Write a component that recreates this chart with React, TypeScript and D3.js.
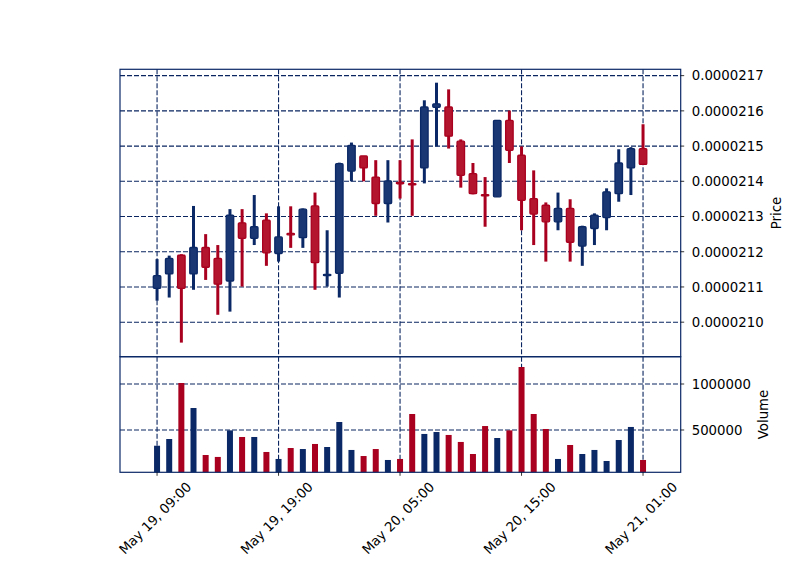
import React from 'react';
import * as d3 from 'd3';

// prices in units of 1e-7
const opens = [210.96, 211.37, 211.9, 211.37, 212.12, 211.81, 211.17, 212.82, 212.38, 212.9, 211.95, 212.52, 212.4, 213.3, 211.32, 211.39, 214.29, 214.72, 214.12, 213.37, 213.97, 213.93, 214.38, 216.1, 216.11, 215.14, 214.22, 213.62, 213.56, 215.73, 214.74, 213.51, 213.32, 212.85, 213.23, 212.16, 212.66, 212.97, 213.65, 214.38, 214.93];
const highs = [211.79, 211.89, 211.93, 213.3, 212.5, 212.19, 213.21, 213.21, 213.61, 213.09, 213.29, 213.29, 213.23, 213.68, 212.61, 214.53, 215.1, 214.72, 214.6, 214.6, 214.6, 215.19, 216.3, 216.8, 216.61, 215.19, 214.52, 214.12, 215.73, 216.01, 214.99, 214.31, 213.4, 213.68, 213.49, 212.74, 213.09, 213.8, 214.91, 214.97, 215.62];
const lows = [210.61, 210.7, 209.42, 210.92, 211.2, 210.21, 210.3, 211.01, 212.19, 211.6, 211.72, 212.11, 212.11, 210.92, 211.01, 210.7, 214.0, 214.0, 213.02, 212.83, 213.51, 213.02, 213.94, 214.99, 214.93, 213.82, 213.63, 212.71, 213.56, 214.52, 212.61, 212.19, 211.72, 212.61, 211.72, 211.6, 212.19, 212.61, 213.42, 213.61, 214.48];
const closes = [211.32, 211.81, 210.96, 212.12, 211.56, 211.08, 213.04, 212.38, 212.71, 211.97, 212.42, 212.48, 213.21, 211.69, 211.36, 214.5, 215.02, 214.38, 213.37, 214.01, 213.93, 213.9, 216.11, 216.2, 215.28, 214.17, 213.65, 213.59, 215.73, 214.88, 213.46, 213.07, 212.85, 213.23, 212.27, 212.71, 213.04, 213.7, 214.52, 214.93, 214.48];
const volumes = [329000, 402000, 1011000, 739000, 228000, 207000, 496000, 424000, 424000, 261000, 185000, 304000, 293000, 348000, 315000, 587000, 283000, 217000, 293000, 174000, 185000, 674000, 457000, 478000, 446000, 370000, 239000, 543000, 413000, 496000, 1185000, 674000, 511000, 185000, 337000, 239000, 283000, 163000, 391000, 533000, 174000];
const upUp = [true, true, false, true, false, false, true, false, true, false, true, false, true, false, true, true, true, false, false, true, false, false, true, true, false, false, false, false, true, false, false, false, false, true, false, true, true, true, true, true, false];

const tickIdx = [0, 10, 20, 30, 40];
const tickLabels = ['May 19, 09:00', 'May 19, 19:00', 'May 20, 05:00', 'May 20, 15:00', 'May 21, 01:00'];
const priceTicks = [210, 211, 212, 213, 214, 215, 216, 217];
const volTicks = [500000, 1000000];

const W = 800;
const H = 575;
const left = 120;
const right = 680.7;
const top = 69.3;
const mid = 356.7;
const bottom = 472.3;

const NAVY = '#0b2866';
const UP_EDGE = '#0b2866';
const UP_FILL = '#1a3773';
const DN_EDGE = '#a8001e';
const DN_FILL = '#b3152f';
const GRID = '#0a2560';
const FONT = 'DejaVu Sans, sans-serif';

export default function App() {
  const x = d3.scaleLinear().domain([-3.05, 43.1]).range([left, right]);
  const y = d3.scaleLinear().domain([209.02, 217.18]).range([mid, top]);
  const yv = d3.scaleLinear().domain([40000, 1297000]).range([bottom, mid]);
  const bodyW = 7.5;
  const volW = 6;
  const dash = '5,2';

  return (
    <svg width={W} height={H} style={{ position: 'absolute', left: 0, top: 0, background: '#fff' }} fontFamily={FONT}>
      {/* grid */}
      {tickIdx.map((i) => (
        <g key={'vg' + i}>
          <line x1={x(i)} x2={x(i)} y1={top} y2={mid} stroke={GRID} strokeWidth={1.1} strokeDasharray={dash} />
          <line x1={x(i)} x2={x(i)} y1={mid} y2={bottom} stroke={GRID} strokeWidth={1.1} strokeDasharray={dash} />
        </g>
      ))}
      {priceTicks.map((p) => (
        <line key={'hg' + p} x1={left} x2={right} y1={y(p)} y2={y(p)} stroke={GRID} strokeWidth={1.1} strokeDasharray={dash} />
      ))}
      {volTicks.map((v) => (
        <line key={'vv' + v} x1={left} x2={right} y1={yv(v)} y2={yv(v)} stroke={GRID} strokeWidth={1.1} strokeDasharray={dash} />
      ))}

      {/* candles */}
      {opens.map((o, i) => {
        const c = closes[i];
        const up = upUp[i];
        const edge = up ? UP_EDGE : DN_EDGE;
        const fill = up ? UP_FILL : DN_FILL;
        const yt = y(Math.max(o, c));
        const yb = y(Math.min(o, c));
        return (
          <g key={'c' + i}>
            <line x1={x(i)} x2={x(i)} y1={y(highs[i])} y2={y(lows[i])} stroke={edge} strokeWidth={3} />
            <rect x={x(i) - bodyW / 2} y={yt} width={bodyW} height={Math.max(yb - yt, 0.5)} rx={1} fill={fill} stroke={edge} strokeWidth={1.3} />
          </g>
        );
      })}

      {/* volume */}
      {volumes.map((v, i) => (
        <rect key={'v' + i} x={x(i) - volW / 2} y={yv(v)} width={volW} height={bottom - yv(v)} fill={upUp[i] ? UP_EDGE : DN_EDGE} />
      ))}

      {/* frames */}
      <rect x={left} y={top} width={right - left} height={mid - top} fill="none" stroke={NAVY} strokeWidth={1.2} />
      <rect x={left} y={mid} width={right - left} height={bottom - mid} fill="none" stroke={NAVY} strokeWidth={1.2} />

      {/* price axis */}
      {priceTicks.map((p) => (
        <g key={'pt' + p} transform={`translate(${right},${y(p)})`}>
          <line x1={0} x2={3.5} stroke="#000" strokeWidth={0.8} />
          <text x={11} dy="0.36em" fontSize={13.3} fill="#000">{(p * 1e-7).toFixed(7)}</text>
        </g>
      ))}
      <text transform={`translate(781,${(top + mid) / 2}) rotate(-90)`} textAnchor="middle" fontSize={13.3} fill="#000">Price</text>

      {/* volume axis */}
      {volTicks.map((v) => (
        <g key={'vt' + v} transform={`translate(${right},${yv(v)})`}>
          <line x1={0} x2={3.5} stroke="#000" strokeWidth={0.8} />
          <text x={11} dy="0.36em" fontSize={13.3} fill="#000">{v}</text>
        </g>
      ))}
      <text transform={`translate(768,${(mid + bottom) / 2}) rotate(-90)`} textAnchor="middle" fontSize={13.3} fill="#000">Volume</text>

      {/* x axis */}
      {tickIdx.map((i, k) => (
        <g key={'xt' + i}>
          <line x1={x(i)} x2={x(i)} y1={bottom} y2={bottom + 3.5} stroke="#000" strokeWidth={0.8} />
          <text transform={`translate(${x(i) - 2},${518}) rotate(-45)`} textAnchor="middle" dy="0.36em" fontSize={13.3} fill="#000">{tickLabels[k]}</text>
        </g>
      ))}
    </svg>
  );
}
